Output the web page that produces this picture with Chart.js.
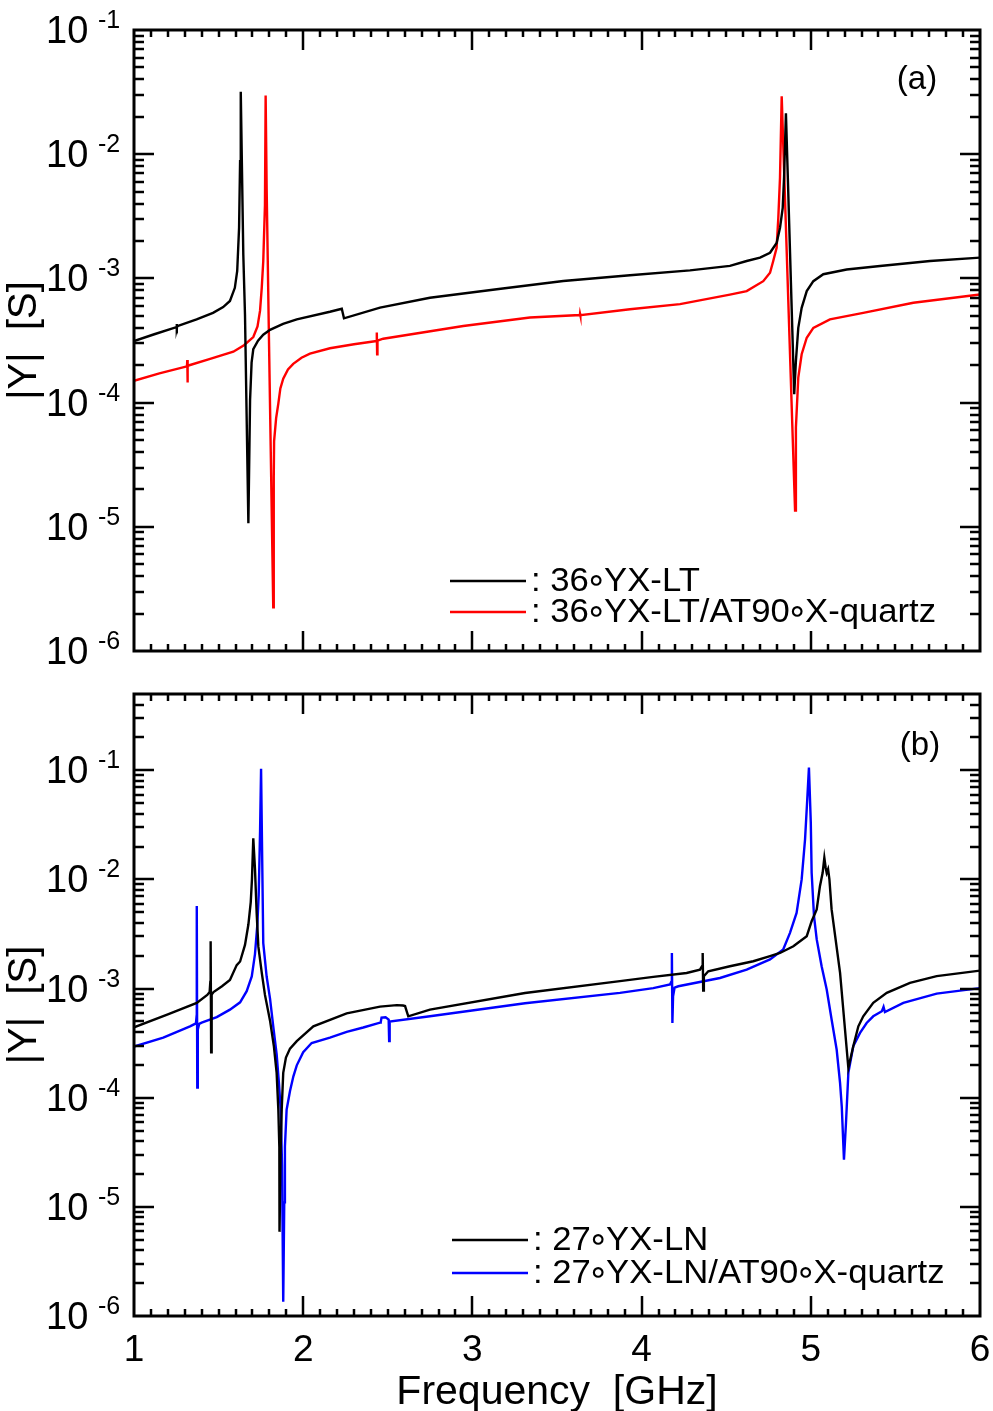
<!DOCTYPE html>
<html><head><meta charset="utf-8">
<script src="https://cdn.jsdelivr.net/npm/chart.js@4.4.1/dist/chart.umd.min.js"></script>
<style>
html,body{margin:0;padding:0;background:#fff;}
body{width:993px;height:1411px;position:relative;overflow:hidden;}
canvas{position:absolute;left:0;}
#ca{top:0;} #cb{top:670px;}
</style></head><body>
<canvas id="ca" width="993" height="670"></canvas>
<canvas id="cb" width="993" height="741"></canvas>
<script>
// ---------- DATA ----------
const xTickLabels = ['1','2','3','4','5','6'];
const yExpTop = [-1,-2,-3,-4,-5,-6];
const yExpBottom = [-1,-2,-3,-4,-5,-6];
const legendTop = [': 36\u2218YX-LT', ': 36\u2218YX-LT/AT90\u2218X-quartz'];
const legendBottom = [': 27\u2218YX-LN', ': 27\u2218YX-LN/AT90\u2218X-quartz'];

// (a) 36°YX-LT
const ltFreq = [1.000,1.120,1.250,1.252,1.254,1.256,1.370,1.467,1.527,1.567,1.596,1.610,1.621,1.627,1.631,1.646,1.656,1.676,1.686,1.695,1.705,1.733,1.764,1.804,1.881,1.962,2.158,2.228,2.241,2.454,2.749,3.144,3.537,3.931,4.286,4.522,4.621,4.700,4.759,4.798,4.818,4.834,4.842,4.853,4.902,4.912,4.926,4.946,4.976,5.015,5.074,5.212,5.409,5.705,6.000];
const ltY = [3.13e-4,3.55e-4,4.05e-4,4.30e-4,3.95e-4,4.12e-4,4.68e-4,5.28e-4,5.87e-4,6.58e-4,8.4e-4,1.15e-3,2.55e-3,8.8e-3,3.18e-2,1.56e-3,5.1e-4,1.07e-5,1.05e-4,2.1e-4,2.69e-4,3.15e-4,3.52e-4,3.85e-4,4.30e-4,4.68e-4,5.39e-4,5.70e-4,4.77e-4,5.81e-4,6.98e-4,8.17e-4,9.52e-4,1.06e-3,1.16e-3,1.26e-3,1.38e-3,1.47e-3,1.61e-3,1.93e-3,2.55e-3,3.7e-3,6.5e-3,2.14e-2,1.17e-4,2.16e-4,4.0e-4,5.8e-4,7.9e-4,9.5e-4,1.08e-3,1.18e-3,1.26e-3,1.38e-3,1.47e-3];
// (a) 36°YX-LT/AT90°X-quartz
const ltqFreq = [1.000,1.150,1.313,1.315,1.316,1.318,1.450,1.587,1.650,1.705,1.730,1.745,1.755,1.764,1.774,1.778,1.784,1.790,1.796,1.823,1.826,1.828,1.840,1.853,1.865,1.882,1.910,1.941,1.990,2.040,2.158,2.300,2.434,2.435,2.437,2.439,2.473,2.946,3.340,3.635,3.636,3.638,3.931,4.227,4.522,4.621,4.719,4.759,4.778,4.798,4.808,4.818,4.828,4.907,4.912,4.926,4.946,4.976,5.015,5.113,5.310,5.606,6.000];
const ltqY = [1.50e-4,1.72e-4,1.96e-4,2.20e-4,1.45e-4,1.98e-4,2.25e-4,2.57e-4,2.9e-4,3.37e-4,4.1e-4,5.5e-4,8.4e-4,1.38e-3,3.9e-3,2.97e-2,5.3e-3,1.56e-3,4.5e-4,2.25e-6,2.5e-5,4.9e-5,7.5e-5,9.8e-5,1.3e-4,1.56e-4,1.85e-4,2.05e-4,2.3e-4,2.48e-4,2.74e-4,2.95e-4,3.13e-4,3.66e-4,2.45e-4,3.15e-4,3.27e-4,4.14e-4,4.84e-4,5.07e-4,5.2e-4,5.05e-4,5.64e-4,6.2e-4,7.4e-4,7.9e-4,9.5e-4,1.11e-3,1.38e-3,1.76e-3,3.07e-3,6.5e-3,2.92e-2,1.35e-5,6.3e-5,1.59e-4,2.45e-4,3.33e-4,4.0e-4,4.68e-4,5.28e-4,6.37e-4,7.43e-4];
// (b) 27°YX-LN
const lnFreq = [1.000,1.200,1.371,1.433,1.447,1.451,1.453,1.456,1.459,1.470,1.520,1.567,1.607,1.627,1.656,1.676,1.690,1.697,1.705,1.715,1.725,1.735,1.755,1.774,1.804,1.827,1.843,1.853,1.859,1.860,1.867,1.873,1.882,1.898,1.922,1.962,2.060,2.257,2.454,2.553,2.590,2.602,2.621,2.749,3.311,3.872,4.069,4.266,4.345,4.357,4.361,4.364,4.368,4.394,4.522,4.660,4.759,4.818,4.897,4.976,5.005,5.035,5.054,5.070,5.080,5.088,5.094,5.102,5.110,5.123,5.173,5.222,5.251,5.281,5.310,5.369,5.449,5.586,5.744,6.000];
const lnY = [4.41e-4,5.8e-4,7.38e-4,8.75e-4,9.3e-4,1.15e-3,2.72e-3,2.61e-4,8.8e-4,9.3e-4,1.05e-3,1.20e-3,1.64e-3,1.77e-3,2.51e-3,3.86e-3,6.2e-3,9.9e-3,2.38e-2,1.25e-2,4.9e-3,2.42e-3,1.4e-3,8.75e-4,5.08e-4,2.94e-4,1.69e-4,7.8e-5,3.5e-5,5.9e-6,3.5e-5,7.8e-5,1.69e-4,2.33e-4,2.82e-4,3.3e-4,4.51e-4,5.93e-4,6.84e-4,7.05e-4,7.0e-4,6.92e-4,5.57e-4,6.41e-4,9.1e-4,1.17e-3,1.28e-3,1.39e-3,1.49e-3,1.6e-3,2.12e-3,9.6e-4,1.3e-3,1.44e-3,1.60e-3,1.78e-3,1.98e-3,2.12e-3,2.44e-3,3.02e-3,4.14e-3,5.3e-3,8.67e-3,1.15e-2,1.58e-2,1.28e-2,1.15e-2,1.24e-2,1.0e-2,5.31e-3,1.39e-3,1.87e-4,2.96e-4,4.51e-4,5.57e-4,7.4e-4,9.14e-4,1.13e-3,1.30e-3,1.46e-3];
// (b) 27°YX-LN/AT90°X-quartz
const lnqFreq = [1.000,1.173,1.331,1.366,1.370,1.371,1.374,1.377,1.385,1.400,1.489,1.567,1.627,1.666,1.696,1.715,1.729,1.737,1.745,1.751,1.757,1.764,1.784,1.804,1.823,1.843,1.857,1.867,1.875,1.882,1.888,1.892,1.902,1.922,1.942,1.962,2.000,2.050,2.158,2.257,2.355,2.454,2.458,2.463,2.487,2.505,2.508,2.511,2.749,3.311,3.872,4.069,4.168,4.175,4.179,4.182,4.186,4.195,4.217,4.463,4.621,4.759,4.837,4.877,4.916,4.946,4.966,4.979,4.989,5.000,5.005,5.019,5.035,5.064,5.094,5.123,5.153,5.173,5.183,5.196,5.208,5.222,5.251,5.291,5.330,5.369,5.420,5.430,5.438,5.547,5.744,6.000];
const lnqY = [2.94e-4,3.56e-4,4.51e-4,4.8e-4,5.6e-4,5.71e-3,1.24e-4,4.2e-4,4.75e-4,4.88e-4,5.48e-4,6.41e-4,7.48e-4,9.46e-4,1.29e-3,2.07e-3,3.86e-3,7.2e-3,2.73e-2,0.103,1.85e-2,2.61e-3,1.29e-3,8.09e-4,4.51e-4,2.51e-4,1.34e-4,7.76e-5,2.4e-5,1.35e-6,1.1e-5,3.55e-5,7.76e-5,1.15e-4,1.57e-4,1.98e-4,2.61e-4,3.17e-4,3.56e-4,4.01e-4,4.4e-4,4.88e-4,4.9e-4,5.42e-4,5.45e-4,5.2e-4,3.3e-4,4.98e-4,5.57e-4,7.33e-4,9.14e-4,1.01e-3,1.09e-3,1.15e-3,2.12e-3,4.84e-4,8.5e-4,1.02e-3,1.05e-3,1.25e-3,1.49e-3,1.85e-3,2.28e-3,3.24e-3,4.94e-3,1.0e-2,2.33e-2,5.4e-2,0.106,3.3e-2,1.15e-2,4.6e-3,2.82e-3,1.6e-3,9.79e-4,5.2e-4,2.75e-4,1.36e-4,8.3e-5,2.70e-5,5.9e-5,1.69e-4,2.96e-4,3.92e-4,4.84e-4,5.57e-4,6.2e-4,6.8e-4,6.1e-4,7.40e-4,9.0e-4,1.01e-3];

// ---------- DRAWING ----------
const FONT = '"Liberation Sans", Arial, Helvetica, sans-serif';
const toXY = (fs, ys) => fs.map((f, i) => ({x: f, y: ys[i]}));

// draws legend text with a compact "∘" ring, slightly widened
function drawLegendText(ctx, text, x, y, size, sx) {
  ctx.save();
  ctx.translate(x, y);
  ctx.scale(sx, 1);
  ctx.font = size + 'px ' + FONT;
  ctx.textAlign = 'left';
  ctx.textBaseline = 'middle';
  const parts = text.split('\u2218');
  let cx = 0;
  parts.forEach((p, i) => {
    ctx.fillText(p, cx, 0);
    cx += ctx.measureText(p).width;
    if (i < parts.length - 1) {
      const slot = size * 0.44;
      ctx.font = size + 'px "DejaVu Sans", sans-serif';
      ctx.textAlign = 'center';
      ctx.fillText('\u2218', cx + slot / 2, 0);
      ctx.font = size + 'px ' + FONT;
      ctx.textAlign = 'left';
      cx += slot;
    }
  });
  ctx.restore();
}

function decoPlugin(cfg) {
  return {
    id: 'deco',
    afterDatasetsDraw(chart) {
      const ctx = chart.ctx;
      const {left, right, top, bottom} = chart.chartArea;
      const xs = chart.scales.x, ys = chart.scales.y;
      ctx.save();
      ctx.strokeStyle = '#000';
      ctx.fillStyle = '#000';
      ctx.lineWidth = 2.5;
      ctx.beginPath();
      for (let i = 10; i <= 60; i++) {
        if (i === 10 || i === 60) continue;
        const px = Math.round(xs.getPixelForValue(i / 10));
        const len = (i % 10 === 0) ? 20 : 7;
        ctx.moveTo(px, bottom); ctx.lineTo(px, bottom - len);
        ctx.moveTo(px, top); ctx.lineTo(px, top + len);
      }
      for (let e = -7; e <= 0; e++) {
        for (let m = 1; m <= 9; m++) {
          const v = m * Math.pow(10, e);
          if (v < ys.min * 0.999 || v > ys.max * 1.001) continue;
          const py = Math.round(ys.getPixelForValue(v));
          if (Math.abs(py - top) < 1 || Math.abs(py - bottom) < 1) continue;
          const len = (m === 1) ? 20 : 10;
          ctx.moveTo(left, py); ctx.lineTo(left + len, py);
          ctx.moveTo(right, py); ctx.lineTo(right - len, py);
        }
      }
      ctx.stroke();
      ctx.lineWidth = 3;
      ctx.strokeRect(left, top, right - left, bottom - top);

      // y labels 10^n
      cfg.yExp.forEach(ex => {
        const py = ys.getPixelForValue(Math.pow(10, ex));
        ctx.textAlign = 'left';
        ctx.textBaseline = 'alphabetic';
        ctx.font = '38px ' + FONT;
        ctx.fillText('10', 46, py + 13);
        ctx.font = '25px ' + FONT;
        ctx.fillText(String(ex), 98, py - 2);
      });
      if (cfg.xLabels) {
        ctx.font = '37px ' + FONT;
        ctx.textAlign = 'center';
        ctx.textBaseline = 'middle';
        cfg.xLabels.forEach((t, i) => {
          ctx.fillText(t, xs.getPixelForValue(i + 1), bottom + 35);
        });
        ctx.font = '41px ' + FONT;
        ctx.textBaseline = 'alphabetic';
        ctx.fillText('Frequency  [GHz]', (left + right) / 2, bottom + 88);
      }
      ctx.save();
      ctx.translate(36, (top + bottom) / 2);
      ctx.rotate(-Math.PI / 2);
      ctx.font = '40px ' + FONT;
      ctx.textAlign = 'center';
      ctx.textBaseline = 'alphabetic';
      ctx.fillText('|Y|  [S]', 0, 0);
      ctx.restore();
      ctx.font = '33px ' + FONT;
      ctx.textAlign = 'center';
      ctx.textBaseline = 'middle';
      ctx.fillText(cfg.panel, cfg.panelX, top + cfg.panelDY);
      cfg.legend.forEach((t, i) => {
        const ly = cfg.legY + i * cfg.legGap;
        ctx.strokeStyle = cfg.colors[i];
        ctx.lineWidth = 2.4;
        ctx.beginPath();
        ctx.moveTo(cfg.legX, ly); ctx.lineTo(cfg.legX + 76, ly);
        ctx.stroke();
        ctx.fillStyle = '#000';
        drawLegendText(ctx, t, cfg.legX + 81, ly + 1, 34, 1.02);
      });
      ctx.restore();
    }
  };
}

function makeChart(id, sets, ymax, pad, cfg) {
  return new Chart(document.getElementById(id), {
    type: 'line',
    data: {
      datasets: sets.map(s => ({
        data: toXY(s.f, s.y), borderColor: s.c, borderWidth: 2.4,
        pointRadius: 0, tension: 0, fill: false
      }))
    },
    options: {
      responsive: false, animation: false, maintainAspectRatio: false,
      layout: {padding: pad},
      plugins: {legend: {display: false}, tooltip: {enabled: false}},
      scales: {
        x: {type: 'linear', min: 1, max: 6, display: false},
        y: {type: 'logarithmic', min: 1e-6, max: ymax, display: false}
      }
    },
    plugins: [decoPlugin(cfg)]
  });
}

makeChart('ca', [
  {f: ltFreq, y: ltY, c: '#000000'},
  {f: ltqFreq, y: ltqY, c: '#ff0000'}
], 0.1, {left: 134, right: 13, top: 30, bottom: 19}, {
  yExp: yExpTop, xLabels: null, panel: '(a)', panelX: 917, panelDY: 50,
  legend: legendTop, colors: ['#000000', '#ff0000'], legX: 450, legY: 581, legGap: 31
});

makeChart('cb', [
  {f: lnFreq, y: lnY, c: '#000000'},
  {f: lnqFreq, y: lnqY, c: '#0000ff'}
], 0.5, {left: 134, right: 13, top: 24, bottom: 95}, {
  yExp: yExpBottom, xLabels: xTickLabels, panel: '(b)', panelX: 920, panelDY: 52,
  legend: legendBottom, colors: ['#000000', '#0000ff'], legX: 452, legY: 570, legGap: 33
});
</script>
</body></html>
